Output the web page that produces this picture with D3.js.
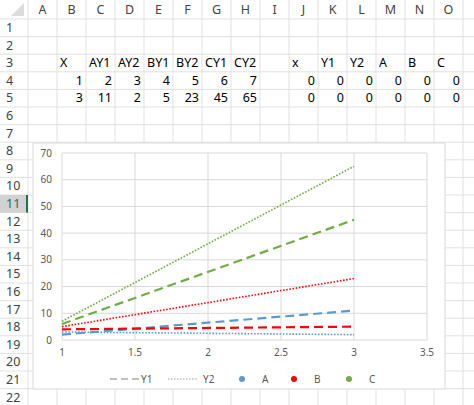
<!DOCTYPE html>
<html><head><meta charset="utf-8">
<script src="https://cdn.jsdelivr.net/npm/d3@7"></script>
<style>body{margin:0;background:#fff;font-family:"Noto Sans",sans-serif;}</style>
</head><body><div id="sheet"></div>
<script>
// sheet contents
var colLetters = ["A","B","C","D","E","F","G","H","I","J","K","L","M","N","O"];
var headerCells = ["X","AY1","AY2","BY1","BY2","CY1","CY2","","x","Y1","Y2","A","B","C"]; // starting col B
var row4 = [1,2,3,4,5,6,7,null,0,0,0,0,0,0];
var row5 = [3,11,2,5,23,45,65,null,0,0,0,0,0,0];

// chart series
var xVals = [1, 3];
var series = [
  {name:"A", y1:[2,11], y2:[3,2], color:"#5b9bd5"},
  {name:"B", y1:[4,5], y2:[5,23], color:"#ff0000"},
  {name:"C", y1:[6,45], y2:[7,65], color:"#70ad47"}
];
var xTicks = [1,1.5,2,2.5,3,3.5];
var yTicks = [0,10,20,30,40,50,60,70];

var W = 474, H = 405;
var svg = d3.select("#sheet").append("svg").attr("width", W).attr("height", H);

var rowHdrW = 28, colW = 29, hdrH = 19, rowH = 17.6;
var font = "Noto Sans";

// grid lines
for (var c = 0; c <= colLetters.length; c++) {
  svg.append("line").attr("x1", rowHdrW + c*colW).attr("x2", rowHdrW + c*colW)
    .attr("y1", 0).attr("y2", H).attr("stroke", "#e1e1e1");
}
for (var r = 0; r <= 22; r++) {
  svg.append("line").attr("x1", 0).attr("x2", W)
    .attr("y1", hdrH + r*rowH).attr("y2", hdrH + r*rowH).attr("stroke", "#e1e1e1");
}
// corner triangle
svg.append("path").attr("d", "M24,3 L24,16 L11,16 Z").attr("fill", "#dcdcdc");

// column letters
svg.selectAll(".colL").data(colLetters).enter().append("text")
  .attr("x", (d, i) => rowHdrW + colW*(i+0.5)).attr("y", 14)
  .attr("text-anchor", "middle").attr("font-family", font).attr("font-size", 12.5)
  .attr("fill", "#444").text(d => d);

// row numbers
var rows = d3.range(1, 23);
svg.append("rect").attr("x", 0).attr("y", hdrH + 10*rowH).attr("width", rowHdrW).attr("height", rowH)
  .attr("fill", "#d2d2d2");
svg.append("line").attr("x1", rowHdrW-1).attr("x2", rowHdrW-1)
  .attr("y1", hdrH + 10*rowH).attr("y2", hdrH + 11*rowH).attr("stroke", "#217346").attr("stroke-width", 2);
svg.selectAll(".rowN").data(rows).enter().append("text")
  .attr("x", 6).attr("y", d => hdrH + rowH*(d-1) + 13)
  .attr("font-family", font).attr("font-size", 12.5)
  .attr("fill", d => d === 11 ? "#217346" : "#444").text(d => d);

// cell values
function cellText(row, colIdx, txt, right) {
  var x = rowHdrW + colW*colIdx;
  svg.append("text").attr("x", right ? x + colW - 3 : x + 3)
    .attr("y", hdrH + rowH*(row-1) + 13)
    .attr("text-anchor", right ? "end" : "start")
    .attr("font-family", font).attr("font-size", 12.5).attr("fill", "#000").text(txt);
}
headerCells.forEach((t, i) => { if (t) cellText(3, i+1, t, false); });
row4.forEach((v, i) => { if (v !== null) cellText(4, i+1, v, true); });
row5.forEach((v, i) => { if (v !== null) cellText(5, i+1, v, true); });

// chart box
svg.append("rect").attr("x", 33).attr("y", 143).attr("width", 412).attr("height", 246)
  .attr("fill", "#fff").attr("stroke", "#d9d9d9");

var xScale = d3.scaleLinear().domain([1, 3.5]).range([62, 427]);
var yScale = d3.scaleLinear().domain([0, 70]).range([340, 153]);

var chart = svg.append("g");
chart.selectAll(".vg").data(xTicks).enter().append("line")
  .attr("x1", d => xScale(d)).attr("x2", d => xScale(d))
  .attr("y1", yScale(70)).attr("y2", yScale(0)).attr("stroke", "#d9d9d9");
chart.selectAll(".hg").data(yTicks).enter().append("line")
  .attr("x1", xScale(1)).attr("x2", xScale(3.5))
  .attr("y1", d => yScale(d)).attr("y2", d => yScale(d)).attr("stroke", "#d9d9d9");

chart.selectAll(".xt").data(xTicks).enter().append("text")
  .attr("x", d => xScale(d)).attr("y", yScale(0) + 16).attr("text-anchor", "middle")
  .attr("font-family", font).attr("font-size", 10).attr("fill", "#595959").text(d => d);
chart.selectAll(".yt").data(yTicks).enter().append("text")
  .attr("x", xScale(1) - 10).attr("y", d => yScale(d) + 3.5).attr("text-anchor", "end")
  .attr("font-family", font).attr("font-size", 10).attr("fill", "#595959").text(d => d);

var line = d3.line().x(d => xScale(d[0])).y(d => yScale(d[1]));
series.forEach(function(s) {
  chart.append("path").attr("d", line(xVals.map((x, i) => [x, s.y1[i]])))
    .attr("fill", "none").attr("stroke", s.color).attr("stroke-width", 2.2)
    .attr("stroke-dasharray", "9,5");
  chart.append("path").attr("d", line(xVals.map((x, i) => [x, s.y2[i]])))
    .attr("fill", "none").attr("stroke", s.color).attr("stroke-width", 1.6)
    .attr("stroke-dasharray", "1.6,1.6");
});

// legend
var ly = 379;
var lg = svg.append("g").attr("font-family", font).attr("font-size", 10).attr("fill", "#595959");
lg.append("line").attr("x1", 110).attr("x2", 140).attr("y1", ly).attr("y2", ly)
  .attr("stroke", "#bfbfbf").attr("stroke-width", 2).attr("stroke-dasharray", "7,4");
lg.append("text").attr("x", 141).attr("y", ly + 3.5).text("Y1");
lg.append("line").attr("x1", 168).attr("x2", 198).attr("y1", ly).attr("y2", ly)
  .attr("stroke", "#bfbfbf").attr("stroke-width", 1.5).attr("stroke-dasharray", "1.5,1.5");
lg.append("text").attr("x", 203).attr("y", ly + 3.5).text("Y2");
var markX = [242, 294, 349];
series.forEach(function(s, i) {
  lg.append("circle").attr("cx", markX[i]).attr("cy", ly).attr("r", 3).attr("fill", s.color);
  lg.append("text").attr("x", markX[i] + 20).attr("y", ly + 3.5).text(s.name);
});
</script></body></html>
